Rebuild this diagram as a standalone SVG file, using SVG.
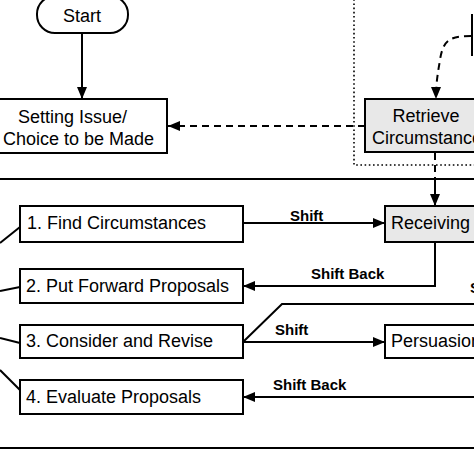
<svg xmlns="http://www.w3.org/2000/svg" width="474" height="474" viewBox="0 0 474 474">
<defs>
<marker id="ah" markerWidth="12" markerHeight="10" refX="12" refY="5" orient="auto" markerUnits="userSpaceOnUse">
<path d="M0,0 L12,5 L0,10 Z" fill="#000"/>
</marker>
<style>
.box{fill:#fff;stroke:#000;stroke-width:2}
.gbox{fill:#e8e8e8;stroke:#000;stroke-width:2}
.t{font-family:"Liberation Sans",Arial,sans-serif;font-size:18px;fill:#000}
.lab{font-family:"Liberation Sans",Arial,sans-serif;font-size:15px;font-weight:bold;fill:#000}
.ln{fill:none;stroke:#000;stroke-width:2}
.dash{fill:none;stroke:#000;stroke-width:2;stroke-dasharray:7 5}
.dot{fill:none;stroke:#000;stroke-width:1.6;stroke-dasharray:1.6 2.6}
</style>
</defs>
<rect width="474" height="474" fill="#fff"/>
<g id="region">
<rect class="dot" x="354" y="-10" width="200" height="175"/>
<line class="ln" x1="0" y1="179" x2="474" y2="179"/>
<line class="ln" x1="0" y1="448" x2="474" y2="448"/>
<line class="ln" x1="472" y1="14" x2="472" y2="56" stroke-width="3"/>
</g>
<g id="connectors">
<line class="ln" x1="82" y1="33" x2="82" y2="99" marker-end="url(#ah)"/>
<line class="dash" x1="365" y1="126" x2="168" y2="126" marker-end="url(#ah)"/>
<path class="dash" d="M471,36 C450,36 443,40 440,60 C438,72 436,82 436,99" marker-end="url(#ah)"/>
<line class="dash" x1="435" y1="153" x2="435" y2="178"/>
<line class="ln" x1="435" y1="180" x2="435" y2="206" marker-end="url(#ah)"/>
<line class="ln" x1="243" y1="223" x2="385" y2="223" marker-end="url(#ah)"/>
<polyline class="ln" points="435,242 435,286 243,286" marker-end="url(#ah)"/>
<polyline class="ln" points="243,342 282,304 480,304"/>
<line class="ln" x1="243" y1="342" x2="385" y2="342" marker-end="url(#ah)"/>
<line class="ln" x1="480" y1="397" x2="243" y2="397" marker-end="url(#ah)"/>
<line class="ln" x1="0" y1="243" x2="20" y2="227"/>
<line class="ln" x1="0" y1="291" x2="20" y2="287"/>
<line class="ln" x1="0" y1="338" x2="20" y2="343"/>
<line class="ln" x1="0" y1="370" x2="20" y2="390"/>
<text class="lab" x="290" y="221">Shift</text>
<text class="lab" x="311" y="279">Shift Back</text>
<text class="lab" x="470" y="293">Shift</text>
<text class="lab" x="275" y="335">Shift</text>
<text class="lab" x="273" y="390">Shift Back</text>
</g>
<g id="start">
<rect class="box" x="37" y="-4" width="91" height="37" rx="18" ry="18"/>
<text class="t" x="82" y="22" text-anchor="middle">Start</text>
</g>
<g id="setting">
<rect class="box" x="-2" y="99" width="169" height="54"/>
<text class="t" x="18" y="123">Setting Issue/</text>
<text class="t" x="3" y="145">Choice to be Made</text>
</g>
<g id="retrieve">
<rect class="gbox" x="365" y="99" width="130" height="53"/>
<text class="t" x="426" y="122" text-anchor="middle">Retrieve</text>
<text class="t" x="372" y="144">Circumstances</text>
</g>
<g id="receiving">
<rect class="gbox" x="385" y="206" width="110" height="36"/>
<text class="t" x="391" y="229">Receiving</text>
</g>
<g id="persuasion">
<rect class="box" x="385" y="325" width="110" height="33"/>
<text class="t" x="391" y="347">Persuasion</text>
</g>
<g id="step1">
<rect class="box" x="20" y="206" width="223" height="36"/>
<text class="t" x="27" y="229">1. Find Circumstances</text>
</g>
<g id="step2">
<rect class="box" x="20" y="269" width="223" height="34"/>
<text class="t" x="26" y="292">2. Put Forward Proposals</text>
</g>
<g id="step3">
<rect class="box" x="20" y="325" width="223" height="33"/>
<text class="t" x="26" y="347">3. Consider and Revise</text>
</g>
<g id="step4">
<rect class="box" x="20" y="380" width="223" height="34"/>
<text class="t" x="26" y="403">4. Evaluate Proposals</text>
</g>
</svg>
